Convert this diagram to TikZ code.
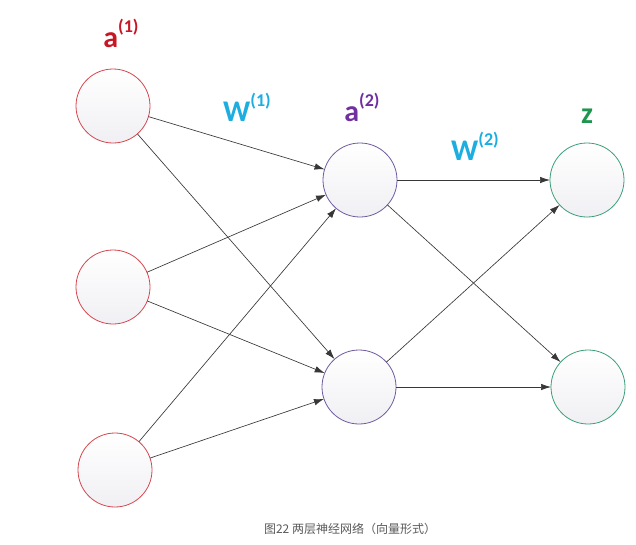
\documentclass[tikz,border=0pt]{standalone}
\usepackage{fontspec}
\setmainfont{Carlito}
\newfontfamily\cjk{Noto Sans CJK SC}
\usetikzlibrary{arrows.meta}
\definecolor{redline}{RGB}{214,72,80}
\definecolor{purpleline}{RGB}{112,92,160}
\definecolor{greenline}{RGB}{60,160,120}
\definecolor{redtxt}{RGB}{200,22,36}
\definecolor{purpletxt}{RGB}{112,48,160}
\definecolor{greentxt}{RGB}{30,150,80}
\definecolor{cyantxt}{RGB}{28,174,224}
\definecolor{edgec}{RGB}{55,55,55}
\definecolor{captxt}{RGB}{90,90,90}
\definecolor{shadebot}{RGB}{240,240,244}
\newcommand{\lbl}[2]{\fontsize{30}{30}\selectfont\bfseries #1\raisebox{15pt}{\fontsize{18}{18}\selectfont #2}}
\begin{document}
\begin{tikzpicture}[x=1pt,y=-1pt,
  neuron/.style={circle,minimum size=74pt,inner sep=0pt,outer sep=0pt,line width=0.8pt,top color=white,bottom color=shadebot},
  conn/.style={draw=edgec,line width=0.65pt,-{Latex[length=10pt,width=6.5pt]}},
  lab/.style={anchor=base,inner sep=0pt}]
\useasboundingbox[fill=white] (0,0) rectangle (636,544);
\node[neuron,draw=redline] (a1) at (113,106) {};
\node[neuron,draw=redline] (a2) at (113,287) {};
\node[neuron,draw=redline] (a3) at (115,470) {};
\node[neuron,draw=purpleline] (b1) at (360,180) {};
\node[neuron,draw=purpleline] (b2) at (359,387) {};
\node[neuron,draw=greenline] (c1) at (587,180) {};
\node[neuron,draw=greenline] (c2) at (588,387) {};
\foreach \s in {a1,a2,a3}{\foreach \t in {b1,b2}{\draw[conn] (\s) -- (\t);}}
\foreach \s in {b1,b2}{\foreach \t in {c1,c2}{\draw[conn] (\s) -- (\t);}}
\node[lab,text=redtxt] (la1) at (121,47) {\lbl{a}{(1)}};
\node[lab,text=purpletxt] (la2) at (362,121) {\lbl{a}{(2)}};
\node[lab,text=cyantxt] (lw1) at (247,121) {\lbl{W}{(1)}};
\node[lab,text=cyantxt] (lw2) at (475,160) {\lbl{W}{(2)}};
\node[lab,text=greentxt] (lz) at (587,123) {\fontsize{30}{30}\selectfont\bfseries z};
\node[text=captxt,inner sep=0pt] (cap) at (350,529) {\cjk\fontsize{12}{12}\selectfont 图22 两层神经网络（向量形式）};
\end{tikzpicture}
\end{document}
